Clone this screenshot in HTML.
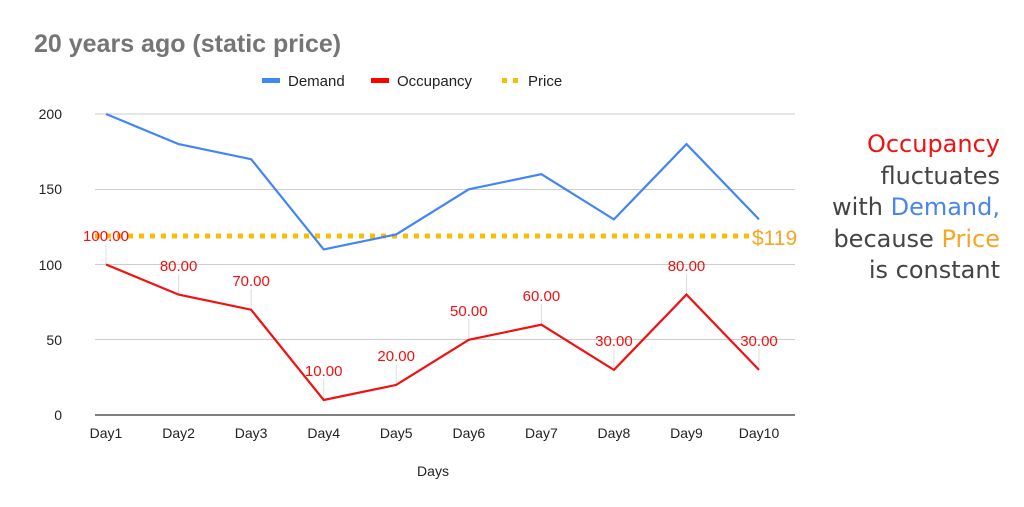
<!DOCTYPE html>
<html><head><meta charset="utf-8"><style>
body{margin:0;background:#fff;width:1024px;height:507px;overflow:hidden}
svg{display:block}
</style></head><body>
<svg width="1024" height="507" xmlns="http://www.w3.org/2000/svg" font-family="Liberation Sans, Arial, sans-serif">
<text x="34" y="52" font-size="25" font-weight="bold" fill="#757575">20 years ago (static price)</text>
<rect x="262" y="78" width="18" height="5" fill="#4285f4"/>
<text x="288" y="86" font-size="15" fill="#222">Demand</text>
<rect x="371" y="78" width="18" height="5" fill="#f00"/>
<text x="397" y="86" font-size="15" fill="#222">Occupancy</text>
<rect x="502" y="78" width="5" height="5" fill="#fbbc04"/><rect x="513" y="78" width="5" height="5" fill="#fbbc04"/>
<text x="528" y="86" font-size="15" fill="#222">Price</text>
<g stroke="#ccc" stroke-width="1">
<line x1="95" y1="114" x2="795" y2="114"/><line x1="95" y1="189.5" x2="795" y2="189.5"/>
<line x1="95" y1="264.5" x2="795" y2="264.5"/><line x1="95" y1="339.5" x2="795" y2="339.5"/>
</g>
<line x1="95" y1="415" x2="795" y2="415" stroke="#333" stroke-width="1.2"/>
<g font-size="14" fill="#222" text-anchor="end">
<text x="62" y="119">200</text><text x="62" y="194">150</text><text x="62" y="270">100</text><text x="62" y="345">50</text><text x="62" y="420">0</text>
</g>
<g font-size="14" fill="#222" text-anchor="middle">
<text x="106" y="438">Day1</text><text x="178.6" y="438">Day2</text><text x="251.1" y="438">Day3</text><text x="323.7" y="438">Day4</text><text x="396.2" y="438">Day5</text><text x="468.8" y="438">Day6</text><text x="541.4" y="438">Day7</text><text x="613.9" y="438">Day8</text><text x="686.5" y="438">Day9</text><text x="759" y="438">Day10</text>
<text x="433" y="476">Days</text>
</g>
<line x1="95" y1="236" x2="752" y2="236" stroke="#fbbc04" stroke-width="5" stroke-dasharray="5,6"/>
<polyline fill="none" stroke="#4285f4" stroke-width="2.2" points="106,114 178.6,144.1 251.1,159.2 323.7,249.4 396.2,234.4 468.8,189.3 541.4,174.2 613.9,219.4 686.5,144.1 759,219.4"/>
<g stroke="#ddd" stroke-width="1">
<line x1="106" y1="244" x2="106" y2="264"/><line x1="178.6" y1="274" x2="178.6" y2="294"/><line x1="251.1" y1="289" x2="251.1" y2="309"/><line x1="323.7" y1="379" x2="323.7" y2="399"/><line x1="396.2" y1="364" x2="396.2" y2="384"/><line x1="468.8" y1="319" x2="468.8" y2="339"/><line x1="541.4" y1="304" x2="541.4" y2="324"/><line x1="613.9" y1="349" x2="613.9" y2="369"/><line x1="686.5" y1="274" x2="686.5" y2="294"/><line x1="759" y1="349" x2="759" y2="369"/>
</g>
<polyline fill="none" stroke="#f21010" stroke-width="2.2" points="106,264.5 178.6,294.6 251.1,309.7 323.7,400 396.2,384.9 468.8,339.8 541.4,324.7 613.9,369.9 686.5,294.6 759,369.9"/>
<g font-size="15" fill="#f21010" text-anchor="middle">
<text x="106" y="241">100.00</text><text x="178.6" y="271">80.00</text><text x="251.1" y="286">70.00</text><text x="323.7" y="376">10.00</text><text x="396.2" y="361">20.00</text><text x="468.8" y="316">50.00</text><text x="541.4" y="301">60.00</text><text x="613.9" y="346">30.00</text><text x="686.5" y="271">80.00</text><text x="759" y="346">30.00</text>
</g>
<text x="752" y="245" font-size="21" fill="#f5a623">$119</text>
<g font-size="24" text-anchor="end" fill="#444" font-family="DejaVu Sans, Liberation Sans, sans-serif">
<text x="1000" y="152" fill="#f21010">Occupancy</text>
<text x="1000" y="184">fluctuates</text>
<text x="1000" y="215">with <tspan fill="#4a86e8">Demand,</tspan></text>
<text x="1000" y="247">because <tspan fill="#f5a623">Price</tspan></text>
<text x="1000" y="278">is constant</text>
</g>
</svg>
</body></html>
